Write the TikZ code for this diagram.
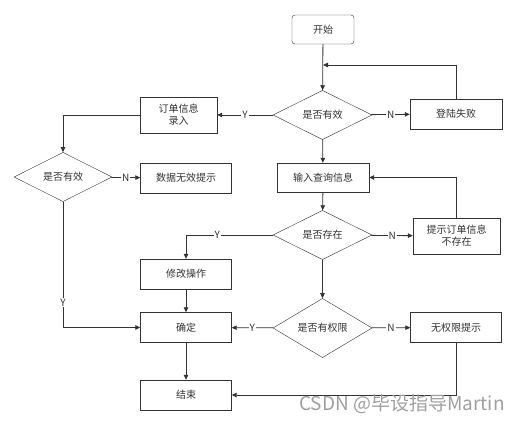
\documentclass[tikz,border=0pt]{standalone}
\usepackage{fontspec}
\setmainfont{Noto Sans CJK SC}
\usepackage{xcolor}
\usepackage{tikz}
\usetikzlibrary{shapes.geometric, arrows.meta, positioning, calc}
\definecolor{linec}{HTML}{333333}
\definecolor{textc}{HTML}{333333}

\begin{document}
\begin{tikzpicture}[x=1pt, y=-1pt, font=\fontsize{10}{12}\selectfont,
    block/.style={rectangle, draw=linec, fill=white, text=textc, align=center, inner sep=0pt, minimum width=91pt, minimum height=30pt},
    decision/.style={diamond, draw=linec, fill=white, text=textc, inner sep=0pt, minimum width=99pt, minimum height=46pt},
    arrow/.style={draw=linec, line width=0.8pt, -{Triangle[length=5pt,width=4.5pt]}},
    lbl/.style={fill=white, text=textc, inner sep=1pt}]
    \useasboundingbox (0,0) rectangle (520,423);

    \node (start) [block, rounded corners=3pt, minimum width=62pt, minimum height=29pt] at (323,29.5) {开始};
    \node (valid) [decision] at (322.5,115) {是否有效};
    \node (fail) [block, minimum width=92pt] at (456,114) {登陆失败};
    \node (entry) [block, minimum width=77pt, minimum height=36pt] at (178.5,115) {订单信息\\录入};
    \node (query) [block, minimum width=92pt, minimum height=29pt] at (323,177.5) {输入查询信息};
    \node (valid2) [decision, minimum width=98pt] at (63,177) {是否有效};
    \node (invalid) [block] at (186,178) {数据无效提示};
    \node (exist) [decision] at (322.5,235) {是否存在};
    \node (notexist) [block, minimum width=87pt, minimum height=36pt] at (456.5,236) {提示订单信息\\不存在};
    \node (modify) [block] at (186,274) {修改操作};
    \node (perm) [decision] at (322.5,328) {是否有权限};
    \node (noperm) [block] at (456,327.5) {无权限提示};
    \node (confirm) [block] at (186,327.5) {确定};
    \node (finish) [block] at (186,395) {结束};
    \coordinate (back) at (323,65);

    \draw [arrow] (start) -- (valid);
    \draw [arrow] (fail.north) |- (back);
    \draw [arrow] (valid) -- node[lbl] {N} (fail);
    \draw [arrow] (valid) -- node[lbl] {Y} (entry);
    \draw [arrow] (valid) -- (query);
    \draw [arrow] (entry.west) -| (valid2.north);
    \draw [arrow] (valid2) -- node[lbl] {N} (invalid);
    \draw [arrow] (valid2.south) |- node[lbl, pos=0.4] {Y} (confirm.west);
    \draw [arrow] (query) -- (exist);
    \draw [arrow] (exist) -- node[lbl] {N} (notexist);
    \draw [arrow] (notexist.north) |- (query.east);
    \draw [arrow] (exist.west) -| node[lbl, pos=0.32] {Y} (modify.north);
    \draw [arrow] (exist) -- (perm);
    \draw [arrow] (modify) -- (confirm);
    \draw [arrow] (perm) -- node[lbl] {Y} (confirm);
    \draw [arrow] (perm) -- node[lbl] {N} (noperm);
    \draw [arrow] (confirm) -- (finish);
    \draw [arrow] (noperm.south) |- (finish.east);

    \node (mark) [text=gray!75, font=\fontsize{19}{22}\selectfont] at (402,404) {CSDN @毕设指导Martin};
\end{tikzpicture}
\end{document}
